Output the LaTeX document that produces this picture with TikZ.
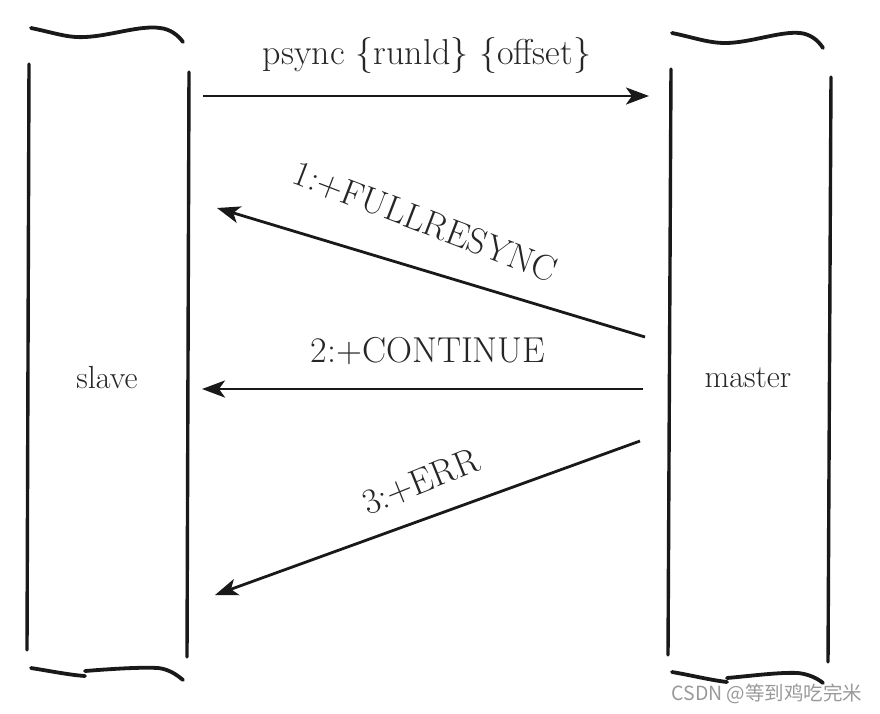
\documentclass[tikz,border=0pt]{standalone}
\usepackage{fontspec}
\newfontfamily\cjk{Noto Sans CJK SC}
\usetikzlibrary{arrows.meta}
\begin{document}
\begin{tikzpicture}[x=1pt,y=-1pt,
  wall/.style={line width=3.4pt,line cap=round,black!90},
  brace/.style={line width=3.8pt,line cap=round,black!90},
  msg/.style={line width=2.8pt,black!90,-{Stealth[length=23pt,width=17pt,inset=6pt]}},
  lbl/.style={font=\fontsize{36}{40}\selectfont,inner sep=0pt,black!85},
  tag/.style={font=\fontsize{32}{36}\selectfont,inner sep=0pt,black!85}]
\useasboundingbox (0,0) rectangle (880,713);
% slave column
\draw[wall] (29,64) -- (27,650);
\draw[wall] (189,72) -- (187,657);
\draw[brace] (31,28) .. controls (55,33) and (68,38) .. (85,37) .. controls (110,36) and (140,25) .. (160,28) .. controls (170,29) and (178,35) .. (183,42);
\draw[brace] (31,668) .. controls (50,671) and (70,675) .. (85,676);
\draw[brace] (85,671) .. controls (110,669) and (140,667) .. (158,668) .. controls (168,669) and (176,674) .. (183,680);
% master column
\draw[wall] (671,69) -- (668,655);
\draw[wall] (831,77) -- (828,662);
\draw[brace] (672,33) .. controls (692,37) and (708,43) .. (725,43) .. controls (750,43) and (780,31) .. (800,33) .. controls (810,34) and (818,40) .. (823,48);
\draw[brace] (672,672) .. controls (690,675) and (710,680) .. (727,682);
\draw[brace] (727,678) .. controls (750,676) and (780,672) .. (798,673) .. controls (808,674) and (817,678) .. (823,683);
% labels
\node[tag] (slave) at (107,378) {slave};
\node[tag] (master) at (748,378) {master};
% endpoints
\coordinate (s1) at (203,96);   \coordinate (m1) at (649,96);
\coordinate (m2) at (645,337);  \coordinate (s2) at (217,208);
\coordinate (m3) at (643,389);  \coordinate (s3) at (202,389);
\coordinate (m4) at (640,441);  \coordinate (s4) at (215,595);
\draw[msg] (s1) -- (m1);
\draw[msg] (m2) -- (s2);
\draw[msg] (m3) -- (s3);
\draw[msg] (m4) -- (s4);
\node[lbl] (t1) at (427,55) {psync \{runld\} \{offset\}};
\node[lbl,rotate=-21] (t2) at (425,222) {1:+FULLRESYNC};
\node[lbl] (t3) at (428,351) {2:+CONTINUE};
\node[lbl,rotate=22] (t4) at (421,482) {3:+ERR};
\node[font=\cjk\fontsize{19.5}{22}\selectfont,text=black!40,inner sep=0pt] (wm) at (767,694) {CSDN @等到鸡吃完米};
\end{tikzpicture}
\end{document}
